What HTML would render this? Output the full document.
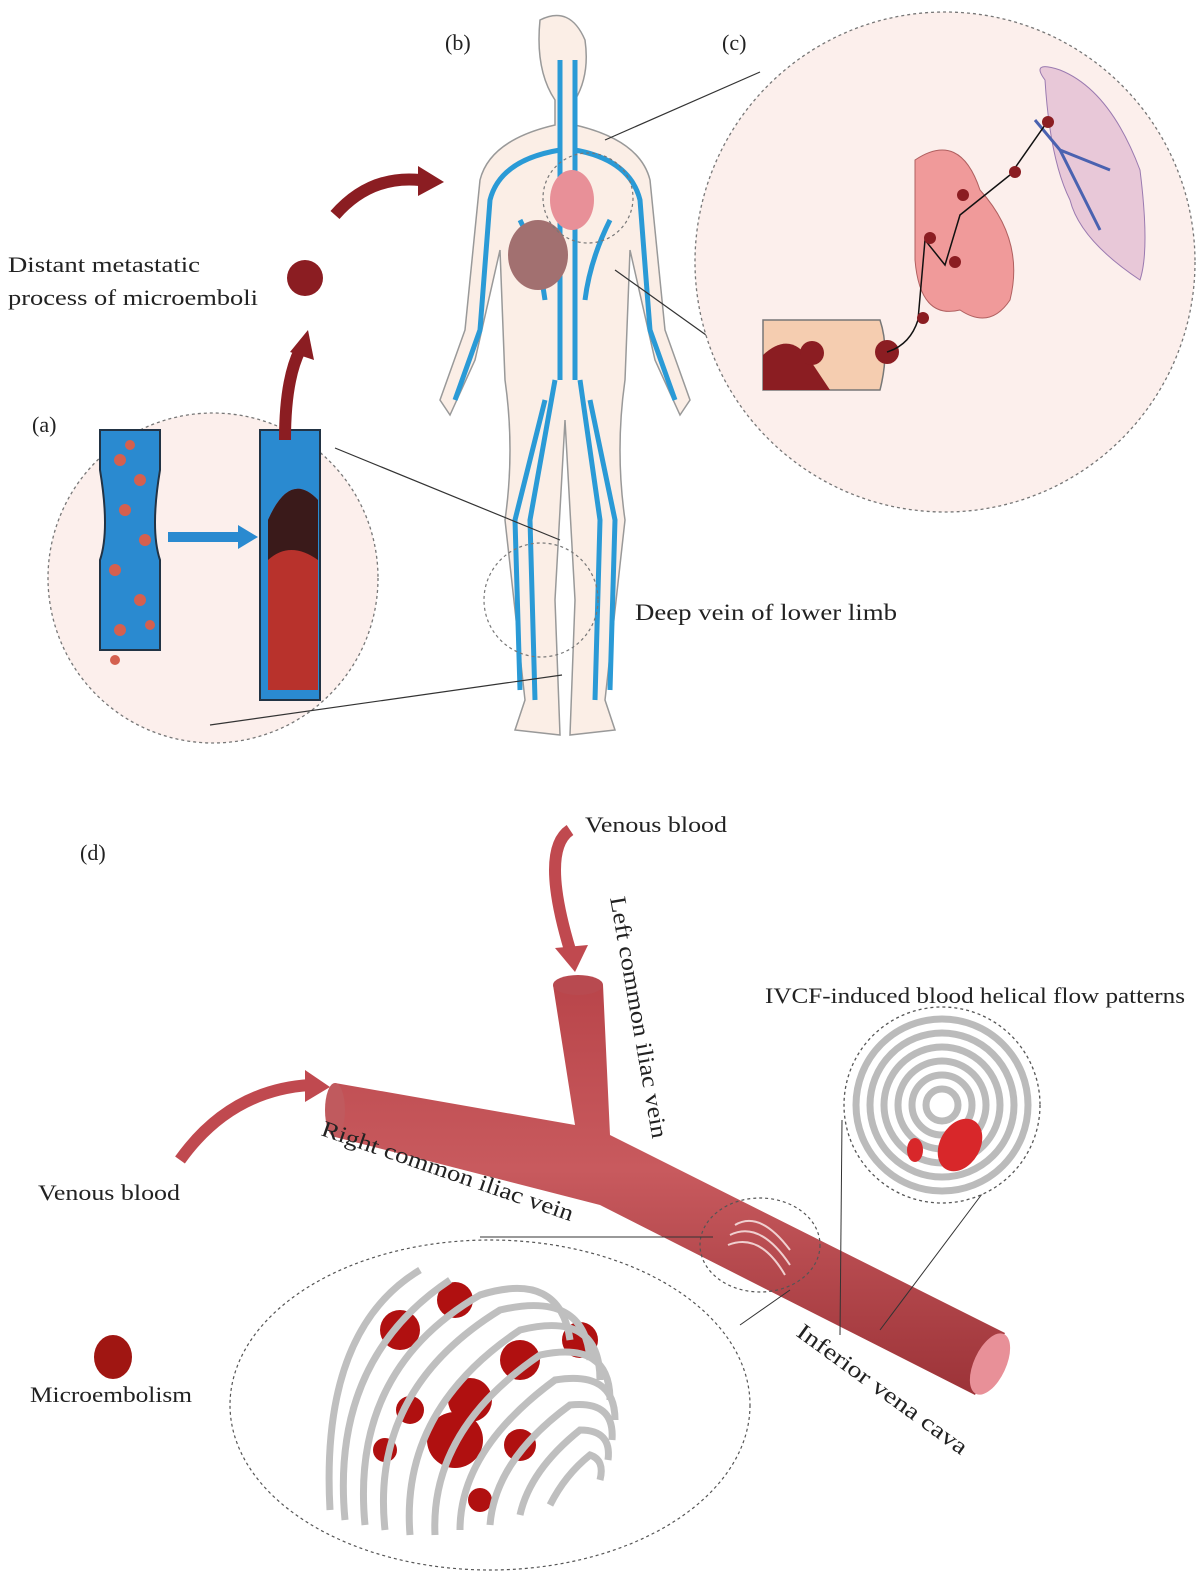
<!DOCTYPE html>
<html><head><meta charset="utf-8"><style>
html,body{margin:0;padding:0;background:#fff}
svg{display:block}
text{font-family:"Liberation Serif",serif;fill:#222}
</style></head><body>
<svg width="1200" height="1576" viewBox="0 0 1200 1576" xmlns="http://www.w3.org/2000/svg">
<defs>
<linearGradient id="tube" x1="0" y1="0" x2="0" y2="1">
<stop offset="0" stop-color="#b9454a"/><stop offset="0.45" stop-color="#c85a5e"/><stop offset="1" stop-color="#9c3338"/></linearGradient>
</defs>
<circle cx="213" cy="578" r="165" fill="#fcefec" stroke="#777" stroke-width="1.3" stroke-dasharray="3,3"/>
<path d="M100,430 L160,430 L160,470 Q150,530 160,560 L160,650 L100,650 L100,560 Q110,530 100,470Z" fill="#2a8ad0" stroke="#234" stroke-width="2"/>
<g fill="#d4604f"><circle cx="120" cy="460" r="6"/><circle cx="140" cy="480" r="6"/><circle cx="125" cy="510" r="6"/><circle cx="145" cy="540" r="6"/><circle cx="115" cy="570" r="6"/><circle cx="140" cy="600" r="6"/><circle cx="120" cy="630" r="6"/><circle cx="130" cy="445" r="5"/><circle cx="115" cy="660" r="5"/><circle cx="150" cy="625" r="5"/></g>
<path d="M168,537 L240,537" stroke="#2a8ad0" stroke-width="10"/>
<polygon points="238,525 258,537 238,549" fill="#2a8ad0"/>
<path d="M260,430 L320,430 L320,700 L260,700Z" fill="#2a8ad0" stroke="#234" stroke-width="2"/>
<path d="M268,520 Q290,470 318,500 L318,690 L268,690Z" fill="#b8322c"/>
<path d="M268,520 Q290,470 318,500 L318,560 Q290,540 268,560Z" fill="#3a1a1a"/>
<path d="M285,440 Q285,380 300,350" stroke="#8b1d22" stroke-width="12" fill="none"/>
<polygon points="290,352 308,330 314,360" fill="#8b1d22"/>
<path d="M335,215 Q370,175 420,180" stroke="#8b1d22" stroke-width="12" fill="none"/>
<polygon points="418,166 444,182 418,196" fill="#8b1d22"/>
<circle cx="305" cy="278" r="18" fill="#8b1d22"/>
<path d="M540,20 Q570,5 585,40 Q590,75 575,100 L575,125 Q640,140 650,180 L665,330 L690,400 L680,415 L655,360 L630,250 L625,380 Q615,450 625,520 L605,700 L615,730 L570,735 L575,600 L565,420 L555,600 L560,735 L515,730 L525,700 L505,520 Q515,450 505,380 L500,250 L475,360 L450,415 L440,400 L465,330 L480,180 Q490,140 555,125 L555,100 Q535,70 540,20Z" fill="#fbeee6" stroke="#999" stroke-width="1.5"/>
<g stroke="#2a9ad6" stroke-width="5" fill="none">
<path d="M560,60 L560,380"/><path d="M575,60 L575,380"/>
<path d="M560,150 Q500,160 490,200 L480,330 L455,400"/><path d="M575,150 Q630,160 640,200 L650,330 L675,400"/>
<path d="M555,380 L530,520 L535,700"/><path d="M580,380 L600,520 L595,700"/>
<path d="M545,400 L515,520 L520,690"/><path d="M590,400 L615,520 L610,690"/>
<path d="M520,220 Q540,260 545,300"/><path d="M610,220 Q590,260 585,300"/>
</g>
<ellipse cx="538" cy="255" rx="30" ry="35" fill="#a27070"/>
<ellipse cx="572" cy="200" rx="22" ry="30" fill="#e89098"/>
<circle cx="588" cy="198" r="45" fill="none" stroke="#777" stroke-width="1.2" stroke-dasharray="3,3"/>
<circle cx="541" cy="600" r="57" fill="none" stroke="#777" stroke-width="1.2" stroke-dasharray="3,3"/>
<line x1="335" y1="448" x2="560" y2="540" stroke="#333" stroke-width="1.2"/>
<line x1="210" y1="725" x2="562" y2="675" stroke="#333" stroke-width="1.2"/>
<line x1="605" y1="140" x2="760" y2="72" stroke="#333" stroke-width="1.2"/>
<line x1="615" y1="270" x2="755" y2="370" stroke="#333" stroke-width="1.2"/>
<circle cx="945" cy="262" r="250" fill="#fcefec" stroke="#777" stroke-width="1.3" stroke-dasharray="3,3"/>
<path d="M763,320 L880,320 Q890,350 880,390 L763,390Z" fill="#f5cdb0" stroke="#777" stroke-width="1.5"/>
<path d="M763,355 Q790,330 810,360 L830,390 L763,390Z" fill="#8b1d22"/>
<circle cx="812" cy="353" r="12" fill="#8b1d22"/><circle cx="887" cy="352" r="12" fill="#8b1d22"/>
<path d="M915,160 Q960,130 980,190 Q1025,240 1010,300 Q990,330 960,310 Q920,320 915,260Z" fill="#f09a9a" stroke="#b06060"/>
<path d="M1045,80 Q1030,60 1060,70 Q1110,90 1140,170 Q1150,250 1140,280 Q1080,240 1070,200 Q1050,160 1045,80Z" fill="#e8c8d8" stroke="#9a7ab0"/>
<path d="M1035,120 L1060,150 L1100,230 M1060,150 L1110,170" stroke="#4a62b0" stroke-width="3" fill="none"/>
<path d="M887,352 Q910,345 918,320 L925,240 L945,265 L960,215 L1010,175 L1045,125" stroke="#111" stroke-width="1.5" fill="none"/>
<g fill="#8b1d22"><circle cx="923" cy="318" r="6"/><circle cx="930" cy="238" r="6"/><circle cx="955" cy="262" r="6"/><circle cx="963" cy="195" r="6"/><circle cx="1015" cy="172" r="6"/><circle cx="1048" cy="122" r="6"/></g>
<text x="445" y="50" font-size="22">(b)</text>
<text x="722" y="50" font-size="22">(c)</text>
<text x="8" y="272" font-size="22" textLength="192" lengthAdjust="spacingAndGlyphs">Distant metastatic</text>
<text x="8" y="305" font-size="22" textLength="250" lengthAdjust="spacingAndGlyphs">process of microemboli</text>
<text x="32" y="432" font-size="22">(a)</text>
<text x="635" y="620" font-size="23" textLength="262" lengthAdjust="spacingAndGlyphs">Deep vein of lower limb</text>
<text x="80" y="860" font-size="22">(d)</text>
<path d="M553,985 L603,985 L610,1135 L1005,1333 L975,1395 L600,1205 L335,1137 L335,1083 L575,1125Z" fill="url(#tube)"/>
<ellipse cx="578" cy="985" rx="25" ry="10" fill="#b84a50"/>
<ellipse cx="335" cy="1110" rx="10" ry="27" fill="#c05a5e"/>
<ellipse cx="990" cy="1364" rx="16" ry="33" transform="rotate(25 990 1364)" fill="#e89098"/>
<path d="M570,830 Q540,850 570,950" stroke="#c0494f" stroke-width="12" fill="none"/>
<polygon points="555,948 575,972 588,945" fill="#c0494f"/>
<path d="M180,1160 Q230,1090 310,1085" stroke="#c0494f" stroke-width="12" fill="none"/>
<polygon points="305,1070 330,1087 305,1102" fill="#c0494f"/>
<text x="585" y="832" font-size="22" textLength="142" lengthAdjust="spacingAndGlyphs">Venous blood</text>
<text x="38" y="1200" font-size="22" textLength="142" lengthAdjust="spacingAndGlyphs">Venous blood</text>
<text x="765" y="1003" font-size="22" textLength="420" lengthAdjust="spacingAndGlyphs">IVCF-induced blood helical flow patterns</text>
<text x="30" y="1402" font-size="22" textLength="162" lengthAdjust="spacingAndGlyphs">Microembolism</text>
<text font-size="23" transform="translate(610,898) rotate(80)" textLength="245" lengthAdjust="spacingAndGlyphs">Left common iliac vein</text>
<text font-size="23" transform="translate(320,1135) rotate(19)" textLength="265" lengthAdjust="spacingAndGlyphs">Right common iliac vein</text>
<text font-size="23" transform="translate(795,1335) rotate(36)" textLength="205" lengthAdjust="spacingAndGlyphs">Inferior vena cava</text>
<ellipse cx="113" cy="1357" rx="19" ry="22" fill="#a01612"/>
<ellipse cx="760" cy="1245" rx="60" ry="47" fill="none" stroke="#555" stroke-width="1.2" stroke-dasharray="3,3"/>
<g stroke="#f0d0d0" stroke-width="2" fill="none"><path d="M735,1225 Q760,1210 790,1250"/><path d="M730,1235 Q760,1220 790,1265"/><path d="M728,1245 Q760,1232 785,1275"/></g>
<line x1="480" y1="1237" x2="713" y2="1237" stroke="#333" stroke-width="1"/>
<line x1="740" y1="1325" x2="790" y2="1290" stroke="#333" stroke-width="1"/>
<line x1="842" y1="1120" x2="840" y2="1335" stroke="#333" stroke-width="1"/>
<line x1="1000" y1="1170" x2="880" y2="1330" stroke="#333" stroke-width="1"/>
<circle cx="942" cy="1105" r="98" fill="#fff" stroke="#555" stroke-width="1.3" stroke-dasharray="3,3"/>
<g fill="none" stroke="#bbb" stroke-width="7">
<circle cx="942" cy="1105" r="86"/><circle cx="942" cy="1105" r="72"/><circle cx="942" cy="1105" r="58"/><circle cx="942" cy="1105" r="44"/><circle cx="942" cy="1105" r="30"/><circle cx="942" cy="1105" r="16"/></g>
<ellipse cx="960" cy="1145" rx="20" ry="28" transform="rotate(30 960 1145)" fill="#d8272a"/>
<ellipse cx="915" cy="1150" rx="8" ry="12" fill="#d8272a"/>
<ellipse cx="490" cy="1405" rx="260" ry="165" fill="#fff" stroke="#555" stroke-width="1.2" stroke-dasharray="3,3"/>
<g fill="#b01010">
<circle cx="400" cy="1330" r="20"/><circle cx="455" cy="1300" r="18"/><circle cx="520" cy="1360" r="20"/><circle cx="470" cy="1400" r="22"/><circle cx="455" cy="1440" r="28"/><circle cx="580" cy="1340" r="18"/><circle cx="410" cy="1410" r="14"/><circle cx="385" cy="1450" r="12"/><circle cx="520" cy="1445" r="16"/><circle cx="480" cy="1500" r="12"/></g>
<g fill="none" stroke="#bfbfbf" stroke-width="7">
<path d="M330,1510 Q320,1330 420,1270"/>
<path d="M345,1520 Q330,1360 450,1280"/>
<path d="M365,1525 Q350,1370 480,1295 Q560,1270 570,1340"/>
<path d="M385,1530 Q370,1390 500,1310 Q585,1290 590,1360"/>
<path d="M410,1535 Q400,1410 520,1330 Q600,1310 600,1380"/>
<path d="M435,1535 Q430,1430 540,1355 Q610,1340 610,1400"/>
<path d="M460,1530 Q460,1450 555,1380 Q615,1370 615,1420"/>
<path d="M490,1525 Q495,1460 570,1405 Q615,1400 612,1440"/>
<path d="M520,1515 Q530,1470 580,1430 Q612,1430 608,1460"/>
<path d="M550,1505 Q565,1475 590,1455 Q605,1460 600,1480"/>
</g>
</svg>
</body></html>
